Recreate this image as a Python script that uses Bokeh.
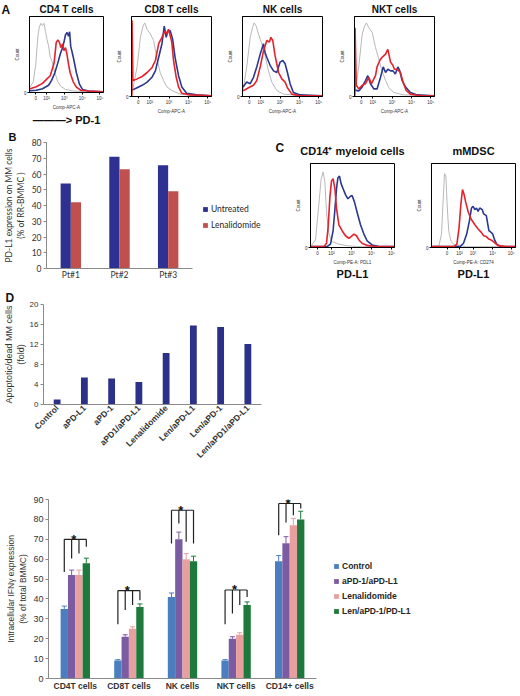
import math
from bokeh.plotting import figure
from bokeh.layouts import row, column
from bokeh.models import (Range1d, FactorRange, FixedTicker, LinearAxis, Legend, LegendItem,
                          Whisker, TeeHead, ColumnDataSource, Spacer)
from bokeh.transform import dodge
from bokeh.core.properties import value
from bokeh.embed import file_html
from bokeh.resources import INLINE

ARIAL = "Liberation Sans"
CALIBRI = "Lato"
GRAY_C, RED_C, BLUE_C = "#b8b8b8", "#e3222b", "#2a388f"

# ---------------- Panel A: PD-1 histograms (x: log10 display units, y: % of max count)
hist_titles = ["CD4 T cells", "CD8 T cells", "NK cells", "NKT cells"]
cd4_gray_u = [1.08,1.26,1.40,1.52,1.60,1.69,1.78,1.86,1.95,2.03,2.12,2.21,2.29,2.47,2.64,2.81,3.07,3.50,4.19,5.16]
cd4_gray_n = [7,14,37,74,86,91,88,91,80,70,61,47,43,26,14,8,4,2,1,1]
cd4_red_u = [1.08,1.43,1.78,2.03,2.21,2.29,2.43,2.55,2.64,2.73,2.81,2.90,2.98,3.07,3.16,3.24,3.33,3.50,3.68,3.93,4.37,5.16]
cd4_red_n = [5,7.5,12,18,22,28,39,66,69,66,59,64,55,59,49,37,26,14,7,3,2,1]
cd4_blue_u = [1.08,1.43,1.78,2.12,2.29,2.47,2.64,2.78,2.90,2.98,3.07,3.16,3.24,3.30,3.36,3.50,3.68,3.85,4.02,4.37,5.16]
cd4_blue_n = [2.5,3,5,9.5,16,26,39,51,59,66,76,79,74,80,61,47,26,11,4,2,1]

cd8_gray_u = [1.08,1.34,1.51,1.65,1.74,1.86,2.03,2.20,2.37,2.54,2.71,2.89,3.14,3.57,4.26,5.18]
cd8_gray_n = [5,37,74,88,92,84,78,70,47,30,20,12,7.5,3,1,1]
cd8_red_u = [1.07,1.08,1.12,1.34,1.60,1.86,2.11,2.29,2.46,2.59,2.71,2.80,2.89,2.97,3.06,3.14,3.23,3.37,3.49,3.66,4.09,5.18]
cd8_red_n = [1,95,20,22,25,30,36,45,66,72,78,82,78,84,76,68,45,24,12,4,2,1]
cd8_blue_u = [1.08,1.34,1.60,1.86,2.11,2.29,2.46,2.63,2.75,2.85,2.94,3.06,3.18,3.31,3.49,3.66,3.91,4.43,5.18]
cd8_blue_n = [8,11,14,18,24,32,49,66,88,74,82,82,72,49,26,12,4,2,1]

nk_gray_u = [1.08,1.27,1.45,1.57,1.65,1.76,1.88,2.05,2.22,2.40,2.57,2.83,3.17,4.04,5.16]
nk_gray_n = [7.5,37,74,86,92,88,78,66,51,32,18,7.5,3,1,1]
nk_red_u = [1.08,1.36,1.62,1.79,1.97,2.14,2.31,2.45,2.52,2.62,2.74,2.92,3.09,3.26,3.38,3.61,4.04,5.16]
nk_red_n = [7,11,14,20,37,57,70,68,74,70,51,30,22,18,11,3,1,1]
nk_blue_u = [1.08,1.27,1.45,1.62,1.79,1.97,2.14,2.22,2.31,2.48,2.66,2.83,3.00,3.14,3.26,3.38,3.52,3.69,4.04,5.16]
nk_blue_n = [12,18,16,24,37,53,66,55,49,39,32,30,43,45,41,30,16,5,2,1]

nkt_gray_u = [1.08,1.27,1.45,1.57,1.67,1.79,1.97,2.14,2.31,2.48,2.66,2.83,3.09,3.61,5.16]
nkt_gray_n = [7.5,37,78,88,92,86,80,61,47,32,20,11,5,2,1]
nkt_red_u = [1.07,1.08,1.14,1.27,1.45,1.62,1.79,1.93,2.14,2.22,2.36,2.48,2.66,2.78,2.92,3.04,3.12,3.26,3.43,3.57,3.73,3.95,4.47,5.16]
nkt_red_n = [1,86,14,9.5,14,16,24,16,26,37,45,49,53,59,43,39,34,34,30,18,7.5,3,1,1]
nkt_blue_u = [1.08,1.27,1.45,1.62,1.74,1.88,2.05,2.22,2.40,2.54,2.66,2.78,2.92,3.05,3.17,3.30,3.40,3.52,3.69,3.95,4.30,5.16]
nkt_blue_n = [8,7,12,20,26,16,9.5,9.5,24,37,30,34,32,32,28,37,32,20,12,5,2,1]

# ---------------- Panel B: PD-L1 expression on MM cells
patients = ["Pt#1", "Pt#2", "Pt#3"]
pdl1_untreated = [54, 71, 65.5]
pdl1_lenalidomide = [42, 63, 49]
b_series = ["Untreated", "Lenalidomide"]

# ---------------- Panel C: PD-L1 histograms
c_titles = ["CD14\u207a myeloid cells", "mMDSC"]
cd14_gray_u = [0.98,1.20,1.37,1.48,1.58,1.67,1.75,1.87,2.03,2.37,2.78,3.45,5.12]
cd14_gray_n = [2,9,52,81,90,78,42,16,7,4,2,1,1]
cd14_red_u = [0.98,1.62,1.75,1.83,1.92,2.00,2.08,2.17,2.25,2.37,2.53,2.70,2.87,2.98,3.12,3.25,3.37,3.53,3.78,4.20,5.12]
cd14_red_n = [1,1,5,24,60,79,82,70,47,27,20,14,11,13,16,14,9,5,2.5,1,1]
cd14_blue_u = [0.98,1.78,1.95,2.08,2.17,2.25,2.32,2.40,2.48,2.58,2.70,2.82,2.95,3.03,3.15,3.28,3.45,3.62,3.78,4.03,4.45,5.12]
cd14_blue_n = [1,1,4,20,45,70,83,85,76,70,63,58,61,62,54,42,27,16,8,3,1,1]

mdsc_gray_u = [0.98,1.32,1.45,1.54,1.60,1.67,1.73,1.81,1.93,2.14,2.71,5.12]
mdsc_gray_n = [1,2,16,60,88,85,52,20,7,2.5,1,1]
mdsc_red_u = [0.98,2.06,2.22,2.33,2.42,2.50,2.58,2.66,2.79,2.95,3.12,3.28,3.44,3.56,3.69,3.82,3.93,4.09,4.26,4.66,5.12]
mdsc_red_n = [1,1,4,24,52,69,63,54,42,33,27,22,18,14,13,10,9,6,2.5,1,1]
mdsc_blue_u = [0.98,2.38,2.55,2.71,2.84,2.95,3.03,3.12,3.20,3.28,3.36,3.49,3.56,3.69,3.82,3.93,4.01,4.09,4.21,4.42,5.12]
mdsc_blue_n = [1,1,5,16,31,47,49,45,47,43,47,45,40,38,20,18,16,10,4,1,1]

# ---------------- Panel D: apoptotic/dead MM cells (fold)
d_conditions = ["Control", "aPD-L1", "aPD-1", "aPD1/aPD-L1", "Lenalidomide",
                "Len/aPD-L1", "Len/aPD-1", "Len/aPD1/aPD-L1"]
d_fold = [1.0, 5.4, 5.2, 4.5, 10.3, 15.8, 15.5, 12.1]

# ---------------- Panel E: intracellular IFN-gamma
e_groups = ["CD4T cells", "CD8T cells", "NK cells", "NKT cells", "CD14+ cells"]
e_series = ["Control", "aPD-1/aPD-L1", "Lenalidomide", "Len/aPD-1/PD-L1"]
e_control = [35, 9, 41, 9, 59]
e_control_err = [1.4, 0.5, 2.0, 0.5, 2.8]
e_apd = [52, 21, 70, 20, 68]
e_apd_err = [2.5, 1.0, 3.6, 1.0, 3.3]
e_len = [52, 25, 60, 22, 77]
e_len_err = [2.5, 1.0, 2.8, 1.0, 3.5]
e_combo = [58, 36, 59, 37, 80]
e_combo_err = [2.5, 1.5, 2.5, 1.5, 4.1]
sig_top = [70.0, 44.2, 84.6, 44.5, 88.0]
sig_drop_control = [53.6, 27.3, 67.9, 27.3, 72.0]
sig_drop_apd = [60.3, 34.4, 77.9, 32.7, 78.4]
sig_drop_len = [62.8, 36.9, 68.7, 36.9, 82.1]
sig_drop_combo = [66.2, 39.4, 67.9, 41.0, 85.5]


def iso(p):
    # wrap a plot on its own so that the layout does not align its borders with neighbours
    return column(p)


def style_title(p, size, standoff, align="center", offset=0):
    p.title.align = align
    p.title.offset = offset
    p.title.text_font = ARIAL
    p.title.text_font_size = size
    p.title.text_font_style = "bold"
    p.title.text_color = "#111111"
    p.title.standoff = standoff


def letter_fig(letter, w, h, top, bottom, standoff, offset):
    p = figure(width=w, height=h, x_range=Range1d(0, 1), y_range=Range1d(0, 1), title=letter,
               output_backend="svg", toolbar_location=None, x_axis_location=None, y_axis_location=None,
               min_border=0, min_border_top=top, min_border_bottom=bottom)
    style_title(p, "12px", standoff, "left", offset)
    p.grid.visible = False
    p.outline_line_color = None
    return p


def legend_fig(names, colors, w, h, loc, size, style, spacing, font, top, bottom):
    p = figure(width=w, height=h, x_range=Range1d(0, 1), y_range=Range1d(0, 1), title=None,
               output_backend="svg", toolbar_location=None, x_axis_location=None, y_axis_location=None,
               min_border=0, min_border_top=top, min_border_bottom=bottom)
    p.grid.visible = False
    p.outline_line_color = None
    items = []
    for n, c in zip(names, colors):
        # swatch-only renderer: its single bar lies outside the visible range
        r = p.vbar(x=[5], top=[5], bottom=[4], width=0.1, fill_color=c, line_color=None)
        items.append(LegendItem(label=n, renderers=[r]))
    leg = Legend(items=items, location=loc, glyph_width=6, glyph_height=6, label_text_font=font,
                 label_text_font_size=size, label_text_font_style=style, label_text_color="#262626",
                 spacing=spacing, padding=1, margin=0, border_line_color=None,
                 background_fill_alpha=0, label_standoff=3)
    p.add_layout(leg)
    return p


def flow_panel(title, curves, xlabel, ticks, xr, w, left, right, top, frame_h, bottom,
               title_size, standoff):
    p = figure(width=w, height=top + frame_h + bottom, x_range=Range1d(*xr), y_range=Range1d(0, 100),
               output_backend="svg", toolbar_location=None, title=title,
               min_border_left=left, min_border_right=right, min_border_top=top, min_border_bottom=bottom)
    style_title(p, title_size, standoff)
    p.grid.visible = False
    p.outline_line_color = "black"
    p.outline_line_width = 1
    for xs, ys, col, lw in curves:
        p.line(xs, ys, line_color=col, line_width=lw)
    xa = p.xaxis[0]
    xa.ticker = FixedTicker(ticks=ticks)
    xa.major_label_overrides = {ticks[0]: "0", ticks[1]: "10\u00b2", ticks[2]: "10\u00b3",
                                ticks[3]: "10\u2074", ticks[4]: "10\u2075"}
    xa.axis_label = xlabel
    ya = p.yaxis[0]
    ya.ticker = FixedTicker(ticks=[0])
    ya.axis_label = "Count"
    for ax in (xa, ya):
        ax.major_label_text_font = ARIAL
        ax.major_label_text_font_size = "4.5px"
        ax.axis_label_text_font = ARIAL
        ax.axis_label_text_font_size = "4.5px"
        ax.axis_label_text_font_style = "normal"
        ax.major_label_text_color = "#333333"
        ax.axis_label_text_color = "#333333"
        ax.major_label_standoff = 1
        ax.axis_label_standoff = 1
        ax.major_tick_out = 2
        ax.major_tick_in = 0
        ax.minor_tick_line_color = None
        ax.axis_line_color = "black"
    return p


def bottom_label_axis(p, text, standoff):
    ax = LinearAxis(axis_label=text, ticker=FixedTicker(ticks=[]), axis_line_color=None,
                    major_tick_line_color=None, minor_tick_line_color=None,
                    axis_label_text_font=ARIAL, axis_label_text_font_size="11px",
                    axis_label_text_font_style="bold", axis_label_text_color="#111111",
                    axis_label_standoff=standoff, major_label_text_font_size="0px",
                    major_tick_out=0, major_label_standoff=0)
    p.add_layout(ax, "below")


def bar_axes(p, font, tick_size, title_size, title_standoff):
    p.grid.visible = False
    p.outline_line_color = None
    for ax in (p.xaxis[0], p.yaxis[0]):
        ax.major_label_text_font = font
        ax.major_label_text_font_size = tick_size
        ax.major_label_text_color = "#333333"
        ax.axis_label_text_font = font
        ax.axis_label_text_font_size = title_size
        ax.axis_label_text_font_style = "normal"
        ax.axis_label_text_color = "#333333"
        ax.axis_line_color = "#8a8a8a"
        ax.minor_tick_line_color = None
        ax.major_tick_line_color = "#8a8a8a"
        ax.major_tick_out = 3
        ax.major_tick_in = 0
        ax.major_label_standoff = 2
        ax.axis_label_standoff = title_standoff
    p.xaxis.major_tick_line_color = None
    p.xaxis.major_tick_out = 0
    p.xaxis.major_label_standoff = 2


# ================= Row A  (y 0..128)
A_XR = (1.05, 5.2)
A_TICKS = [1.4, 2, 3, 4, 5]
a_curves = [
    [(cd4_gray_u, cd4_gray_n, GRAY_C, 1), (cd4_blue_u, cd4_blue_n, BLUE_C, 1.6), (cd4_red_u, cd4_red_n, RED_C, 1.6)],
    [(cd8_gray_u, cd8_gray_n, GRAY_C, 1), (cd8_blue_u, cd8_blue_n, BLUE_C, 1.6), (cd8_red_u, cd8_red_n, RED_C, 1.6)],
    [(nk_gray_u, nk_gray_n, GRAY_C, 1), (nk_blue_u, nk_blue_n, BLUE_C, 1.6), (nk_red_u, nk_red_n, RED_C, 1.6)],
    [(nkt_gray_u, nkt_gray_n, GRAY_C, 1), (nkt_blue_u, nkt_blue_n, BLUE_C, 1.6), (nkt_red_u, nkt_red_n, RED_C, 1.6)],
]
a_layout = [(102, 12, 10), (111, 18, 13), (112, 18, 14), (116, 18, 18)]
a_figs = []
for t, cv, (w, l, r) in zip(hist_titles, a_curves, a_layout):
    a_figs.append(flow_panel(t, cv, "Comp-APC-A", A_TICKS, A_XR, w, l, r, 16, 80, 32, "10px", 3))
bottom_label_axis(a_figs[0], "\u2014\u2014\u2014> PD-1", 1)
row_a = row(iso(letter_fig("A", 11, 128, 16, 32, 0, 1)), *[iso(f) for f in a_figs],
            Spacer(width=68, height=128))

# ================= Row B / C  (y 128..282)
pB = figure(x_range=FactorRange(*patients), y_range=Range1d(0, 80), width=194, height=154,
            output_backend="svg", toolbar_location=None, title="B",
            min_border_left=40, min_border_right=2, min_border_top=13, min_border_bottom=13)
style_title(pB, "11px", 0, "left", -38)
srcB = ColumnDataSource(dict(pt=patients, u=pdl1_untreated, l=pdl1_lenalidomide))
pB.vbar(x=dodge("pt", -0.105, range=pB.x_range), top="u", width=0.21, source=srcB,
        fill_color="#2e3192", line_color=None)
pB.vbar(x=dodge("pt", 0.105, range=pB.x_range), top="l", width=0.21, source=srcB,
        fill_color="#c0504d", line_color=None)
pB.yaxis.ticker = FixedTicker(ticks=[0, 10, 20, 30, 40, 50, 60, 70, 80])
pB.yaxis.axis_label = "PD-L1 expression on MM cells\n(% of RR-BMMC )"
bar_axes(pB, CALIBRI, "8.5px", "8.5px", 3)
pB.xaxis.major_label_standoff = 1
legB = legend_fig(b_series, ["#2e3192", "#c0504d"], 70, 154, (8, 39), "8.5px", "normal", 6, CALIBRI, 13, 13)

C_XR = (0.95, 5.15)
pC1 = flow_panel(c_titles[0], [(cd14_gray_u, cd14_gray_n, GRAY_C, 1), (cd14_blue_u, cd14_blue_n, BLUE_C, 1.6),
                               (cd14_red_u, cd14_red_n, RED_C, 1.6)],
                 "Comp-PE-A: PDL1", [1.3, 2, 3, 4, 5], C_XR, 127, 26, 17, 35, 90, 29, "11px", 14)
pC2 = flow_panel(c_titles[1], [(mdsc_gray_u, mdsc_gray_n, GRAY_C, 1), (mdsc_blue_u, mdsc_blue_n, BLUE_C, 1.6),
                               (mdsc_red_u, mdsc_red_n, RED_C, 1.6)],
                 "Comp-PE-A: CD274", [1.73, 2.35, 3.03, 4.01, 4.94], C_XR, 109, 20, 5, 35, 90, 29, "11px", 14)
for pc in (pC1, pC2):
    bottom_label_axis(pc, "PD-L1", 0)
row_bc = row(iso(pB), iso(legB), iso(letter_fig("C", 20, 154, 35, 29, 17, 11)), iso(pC1), iso(pC2))

# ================= Row D  (y 282..470)
pD = figure(x_range=FactorRange(*d_conditions), y_range=Range1d(0, 20), width=271, height=188,
            output_backend="svg", toolbar_location=None, title="D",
            min_border_left=40, min_border_right=10, min_border_top=22, min_border_bottom=66)
style_title(pD, "12px", 0, "left", -38)
srcD = ColumnDataSource(dict(c=d_conditions, v=d_fold))
pD.vbar(x="c", top="v", width=0.25, source=srcD, fill_color="#2b3188", line_color=None)
pD.yaxis.ticker = FixedTicker(ticks=[0, 4, 8, 12, 16, 20])
pD.yaxis.axis_label = "Apoptotic/dead MM cells\n(fold)"
bar_axes(pD, ARIAL, "8px", "9px", 1)
pD.xaxis.major_label_text_font_size = "8.5px"
pD.xaxis.major_label_text_font_style = "bold"
pD.xaxis.major_label_orientation = math.pi / 4
row_d = row(iso(pD), Spacer(width=249, height=188))

# ================= Row E  (y 470..696)
pE = figure(x_range=FactorRange(*e_groups), y_range=Range1d(0, 90), width=318, height=226,
            output_backend="svg", toolbar_location=None,
            min_border_left=48, min_border_right=2, min_border_top=29, min_border_bottom=18)
e_colors = ["#4a7ebf", "#7b5ca3", "#e8a09f", "#1e7a3c"]
e_offsets = [-0.2055, -0.0685, 0.0685, 0.2055]
e_vals = [e_control, e_apd, e_len, e_combo]
e_errs = [e_control_err, e_apd_err, e_len_err, e_combo_err]
for vals, errs, col, off in zip(e_vals, e_errs, e_colors, e_offsets):
    src = ColumnDataSource(dict(g=e_groups, v=vals, hi=[v + e for v, e in zip(vals, errs)]))
    pE.vbar(x=dodge("g", off, range=pE.x_range), top="v", width=0.137, source=src,
            fill_color=col, line_color=None)
    pE.add_layout(Whisker(base=dodge("g", off, range=pE.x_range), upper="hi", lower="v", source=src,
                          line_color=col, line_width=1,
                          upper_head=TeeHead(size=5, line_color=col, line_width=1), lower_head=None))

srcS = ColumnDataSource(dict(g=e_groups, top=sig_top, d0=sig_drop_control, d1=sig_drop_apd,
                             d2=sig_drop_len, d3=sig_drop_combo))
for k, key in enumerate(["d0", "d1", "d2", "d3"]):
    pE.segment(x0=dodge("g", e_offsets[k], range=pE.x_range), y0="top",
               x1=dodge("g", e_offsets[k], range=pE.x_range), y1=key, source=srcS,
               line_color="#222222", line_width=1.2)
pE.segment(x0=dodge("g", e_offsets[0], range=pE.x_range), y0="top",
           x1=dodge("g", e_offsets[3], range=pE.x_range), y1="top", source=srcS,
           line_color="#222222", line_width=1.2)
pE.text(x=dodge("g", -0.03, range=pE.x_range), y="top", text=value("*"), source=srcS,
        text_font=value(ARIAL), text_font_size="13px", text_font_style="bold",
        text_align="center", text_baseline="alphabetic", text_color="#111111")
pE.yaxis.ticker = FixedTicker(ticks=[0, 10, 20, 30, 40, 50, 60, 70, 80, 90])
pE.yaxis.axis_label = "Intracellular IFN\u03b3 expression\n(% of total BMMC)"
bar_axes(pE, ARIAL, "9px", "8.5px", 2)
pE.xaxis.major_label_text_font_size = "8.5px"
pE.xaxis.major_label_text_font_style = "bold"
legE = legend_fig(e_series, e_colors, 100, 226, (15, 62), "8.5px", "bold", 5, ARIAL, 29, 18)
row_e = row(iso(pE), iso(legE), Spacer(width=102, height=226))

layout = column(row_a, row_bc, row_d, row_e)

open("out.html", "w").write(file_html(layout, INLINE))
